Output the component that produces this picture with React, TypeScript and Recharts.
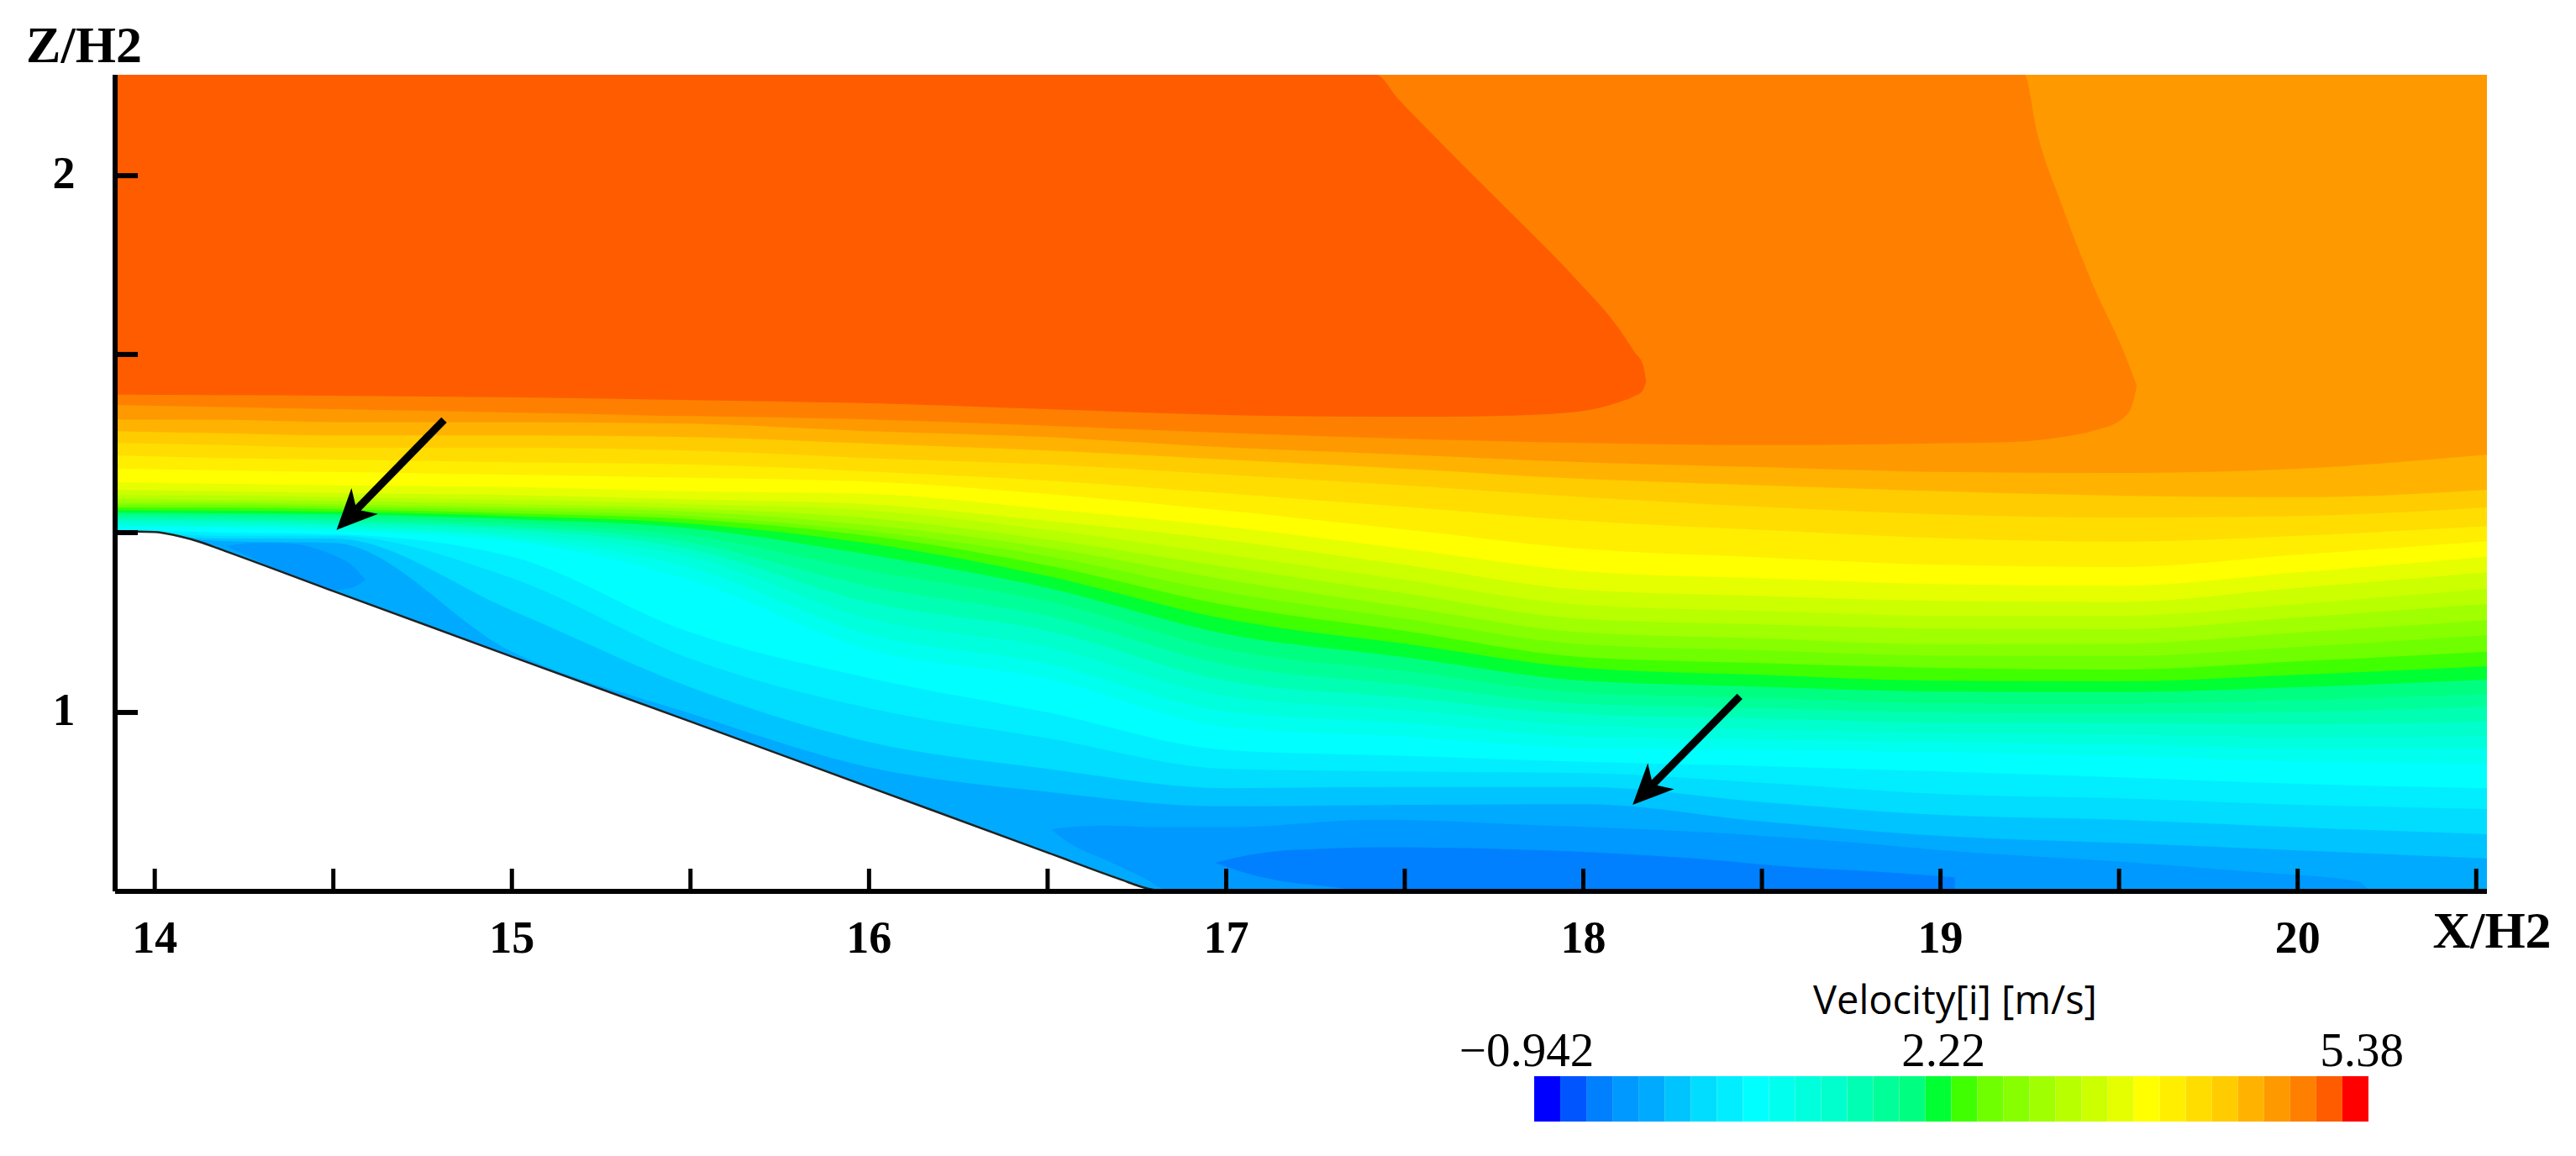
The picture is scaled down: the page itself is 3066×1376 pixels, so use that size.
import { Area, Bar, BarChart, Cell, ComposedChart, Line, ReferenceLine, XAxis, YAxis } from 'recharts'

// colour scale, lowest band first
const BAND_COLORS = [
  '#0000ff', '#0055ff', '#0080ff', '#0099ff', '#00aaff', '#00c4ff', '#00ddff', '#00eeff',
  '#00ffff', '#00ffee', '#00ffdd', '#00ffcc', '#00ffb3', '#00ff99', '#00ff80', '#00ff33',
  '#40ff00', '#70ff00', '#88ff00', '#a0ff00', '#b8ff00', '#ccff00', '#e6ff00', '#ffff00',
  '#ffee00', '#ffdd00', '#ffcc00', '#ffb300', '#ff9900', '#ff8000', '#ff5c00', '#ff0000',
]

const X_MIN = 13.889
const X_MAX = 20.53
const Z_MIN = 0.6667
const Z_MAX = 2.188

const X_TICKS = [14, 14.5, 15, 15.5, 16, 16.5, 17, 17.5, 18, 18.5, 19, 19.5, 20, 20.5]
const Z_TICKS = [2, 1.667, 1.335, 1]

const STATIONS = [13.889, 14.2, 14.5, 15, 15.5, 16, 16.5, 17, 17.5, 18, 18.5, 19, 19.5, 20, 20.53]

// lower edge (Z/H2) of each velocity band at the stations above
const LEVELS: Record<number, number[]> = {
  5: [1.337, 1.319, 1.316, 1.113, 0.998, 0.898, 0.852, 0.825, 0.828, 0.829, 0.797, 0.77, 0.757, 0.743, 0.728],
  6: [1.338, 1.324, 1.324, 1.19, 1.047, 0.945, 0.895, 0.859, 0.861, 0.861, 0.833, 0.809, 0.8, 0.786, 0.773],
  7: [1.34, 1.329, 1.329, 1.25, 1.1, 1.008, 0.952, 0.895, 0.89, 0.887, 0.869, 0.848, 0.84, 0.828, 0.82],
  8: [1.341, 1.335, 1.332, 1.29, 1.149, 1.064, 1.0, 0.93, 0.919, 0.908, 0.9, 0.89, 0.879, 0.867, 0.859],
  9: [1.344, 1.343, 1.338, 1.318, 1.247, 1.117, 1.063, 0.973, 0.955, 0.934, 0.931, 0.926, 0.919, 0.909, 0.904],
  10: [1.349, 1.347, 1.343, 1.325, 1.27, 1.146, 1.091, 1.002, 0.981, 0.955, 0.95, 0.945, 0.941, 0.933, 0.933],
  11: [1.354, 1.352, 1.347, 1.332, 1.29, 1.175, 1.122, 1.031, 1.005, 0.976, 0.969, 0.962, 0.959, 0.954, 0.956],
  12: [1.358, 1.357, 1.352, 1.341, 1.304, 1.205, 1.152, 1.059, 1.028, 0.997, 0.989, 0.981, 0.98, 0.978, 0.983],
  13: [1.363, 1.362, 1.357, 1.346, 1.316, 1.235, 1.18, 1.089, 1.052, 1.016, 1.008, 1.0, 0.998, 1.001, 1.011],
  14: [1.368, 1.366, 1.363, 1.352, 1.329, 1.264, 1.207, 1.117, 1.077, 1.036, 1.027, 1.017, 1.016, 1.023, 1.034],
  15: [1.372, 1.371, 1.369, 1.36, 1.343, 1.294, 1.232, 1.146, 1.103, 1.059, 1.048, 1.039, 1.038, 1.047, 1.061],
  16: [1.377, 1.376, 1.374, 1.366, 1.352, 1.315, 1.254, 1.174, 1.128, 1.083, 1.07, 1.059, 1.058, 1.07, 1.086],
  17: [1.382, 1.382, 1.379, 1.371, 1.36, 1.329, 1.274, 1.2, 1.152, 1.103, 1.092, 1.083, 1.08, 1.095, 1.113],
  18: [1.387, 1.387, 1.384, 1.377, 1.366, 1.338, 1.291, 1.224, 1.175, 1.127, 1.116, 1.106, 1.105, 1.122, 1.144],
  19: [1.391, 1.391, 1.388, 1.382, 1.374, 1.349, 1.307, 1.247, 1.197, 1.149, 1.138, 1.127, 1.128, 1.149, 1.172],
  20: [1.398, 1.396, 1.394, 1.388, 1.38, 1.362, 1.322, 1.271, 1.222, 1.174, 1.164, 1.156, 1.155, 1.177, 1.202],
  21: [1.405, 1.404, 1.401, 1.396, 1.388, 1.376, 1.34, 1.294, 1.247, 1.2, 1.189, 1.18, 1.18, 1.202, 1.23],
  22: [1.415, 1.412, 1.409, 1.405, 1.397, 1.388, 1.357, 1.321, 1.275, 1.228, 1.217, 1.208, 1.206, 1.232, 1.261],
  23: [1.429, 1.426, 1.423, 1.42, 1.412, 1.407, 1.379, 1.346, 1.305, 1.263, 1.25, 1.239, 1.236, 1.261, 1.29],
  24: [1.454, 1.451, 1.448, 1.443, 1.437, 1.43, 1.407, 1.376, 1.341, 1.305, 1.289, 1.275, 1.271, 1.294, 1.319],
  25: [1.479, 1.474, 1.471, 1.466, 1.462, 1.449, 1.432, 1.408, 1.383, 1.357, 1.34, 1.325, 1.318, 1.329, 1.347],
  26: [1.502, 1.498, 1.493, 1.493, 1.488, 1.474, 1.462, 1.443, 1.423, 1.401, 1.383, 1.369, 1.363, 1.366, 1.382],
  27: [1.524, 1.52, 1.516, 1.516, 1.513, 1.501, 1.488, 1.471, 1.454, 1.435, 1.423, 1.412, 1.404, 1.401, 1.415],
  28: [1.546, 1.545, 1.541, 1.541, 1.538, 1.524, 1.513, 1.494, 1.48, 1.466, 1.457, 1.448, 1.446, 1.454, 1.48],
}

// closed bands: x stations with their lower and upper edges
const BAND29_X = [13.889, 14.5, 15, 15.5, 16, 16.5, 17, 17.5, 18, 18.5, 18.95, 19.235, 19.27, 19.34, 19.43, 19.515, 19.535, 19.55]
const BAND29_LO = [1.573, 1.565, 1.559, 1.552, 1.546, 1.534, 1.521, 1.51, 1.502, 1.498, 1.501, 1.505, 1.507, 1.513, 1.525, 1.55, 1.57, 1.608]
const BAND29_HI = [2.188, 2.188, 2.188, 2.188, 2.188, 2.188, 2.188, 2.188, 2.188, 2.188, 2.188, 2.188, 2.082, 1.945, 1.792, 1.669, 1.635, 1.608]

const BAND30_X = [13.889, 14.5, 15, 15.5, 16, 16.5, 17, 17.42, 17.48, 17.615, 17.8, 17.98, 18.1, 18.145, 18.167, 18.176]
const BAND30_LO = [1.592, 1.59, 1.587, 1.582, 1.576, 1.565, 1.554, 1.551, 1.551, 1.551, 1.553, 1.56, 1.578, 1.59, 1.6, 1.617]
const BAND30_HI = [2.188, 2.188, 2.188, 2.188, 2.188, 2.188, 2.188, 2.188, 2.144, 2.052, 1.929, 1.807, 1.715, 1.67, 1.648, 1.617]

const POCKET_A_X = [14.2, 14.28, 14.35, 14.5, 14.55, 14.59]
const POCKET_A_LO = [1.31, 1.285, 1.264, 1.228, 1.232, 1.247]
const POCKET_A_HI = [1.31, 1.316, 1.316, 1.293, 1.275, 1.247]

const POCKET_B_X = [16.51, 16.56, 16.67, 16.76, 16.85, 17, 17.42, 17.9, 18.31, 18.67, 19.07, 19.55, 19.87, 20.17, 20.2]
const POCKET_B_LO = [0.782, 0.757, 0.723, 0.695, 0.667, 0.667, 0.667, 0.667, 0.667, 0.667, 0.667, 0.667, 0.667, 0.667, 0.667]
const POCKET_B_HI = [0.782, 0.786, 0.789, 0.787, 0.786, 0.786, 0.8, 0.789, 0.778, 0.762, 0.74, 0.72, 0.703, 0.685, 0.667]

const POCKET_C_X = [16.97, 17.06, 17.12, 17.27, 17.42, 17.9, 18.31, 18.59, 18.83, 19.04]
const POCKET_C_LO = [0.72, 0.7, 0.69, 0.677, 0.667, 0.667, 0.667, 0.667, 0.667, 0.667]
const POCKET_C_HI = [0.72, 0.734, 0.74, 0.746, 0.749, 0.743, 0.728, 0.712, 0.703, 0.693]

// the sloping wall
const WALL_X = [13.889, 13.95, 14, 14.05, 14.12, 14.2, 14.5, 15, 15.5, 16, 16.5, 16.7, 16.78, 16.85, 20.53]
const WALL_Z = [1.337, 1.337, 1.336, 1.331, 1.319, 1.3, 1.226, 1.104, 0.983, 0.861, 0.739, 0.69, 0.672, 0.6667, 0.6667]

const ARROWS = [
  { tail: [14.81, 1.545], tip: [14.509, 1.34] },
  { tail: [18.438, 1.03], tip: [18.138, 0.828] },
]

const LEGEND_TITLE = 'Velocity[i] [m/s]'
const LEGEND_LABELS = ['\u22120.942', '2.22', '5.38']

const SERIF = '"Liberation Serif", serif'

const mainRows = STATIONS.map((x, i) => {
  const row: Record<string, any> = { x, base: [Z_MIN, Z_MAX] }
  Object.keys(LEVELS).forEach((k) => {
    row[`band${k}`] = [LEVELS[Number(k)][i], Z_MAX]
  })
  return row
})

const rangeRows = (xs: number[], lo: number[], hi: number[]) =>
  xs.map((x, i) => ({ x, range: [lo[i], hi[i]] }))

const wallRows = WALL_X.map((x, i) => ({ x, z: WALL_Z[i], fillRange: [Z_MIN, WALL_Z[i]] }))
const legendRows = BAND_COLORS.map((color, i) => ({ band: i, value: 1, color }))

const closedBands = [
  { id: 'b29', color: BAND_COLORS[29], rows: rangeRows(BAND29_X, BAND29_LO, BAND29_HI) },
  { id: 'b30', color: BAND_COLORS[30], rows: rangeRows(BAND30_X, BAND30_LO, BAND30_HI) },
  { id: 'pa', color: BAND_COLORS[3], rows: rangeRows(POCKET_A_X, POCKET_A_LO, POCKET_A_HI) },
  { id: 'pb', color: BAND_COLORS[3], rows: rangeRows(POCKET_B_X, POCKET_B_LO, POCKET_B_HI) },
  { id: 'pc', color: BAND_COLORS[2], rows: rangeRows(POCKET_C_X, POCKET_C_LO, POCKET_C_HI) },
]

function XTick({ x, y, payload }: any) {
  const isMajor = Number.isInteger(payload.value)
  return (
    <g>
      <line x1={x} x2={x} y1={y} y2={y - 27} stroke="#000" strokeWidth={5} />
      {isMajor && (
        <text x={x} y={y + 73} textAnchor="middle" fontFamily={SERIF} fontWeight={700} fontSize={54} fill="#000">
          {payload.value}
        </text>
      )}
    </g>
  )
}

function YTick({ x, y, payload }: any) {
  const isMajor = Number.isInteger(payload.value)
  return (
    <g>
      <line x1={x} x2={x + 27} y1={y} y2={y} stroke="#000" strokeWidth={6} />
      {isMajor && (
        <text x={x - 61} y={y + 15} textAnchor="middle" fontFamily={SERIF} fontWeight={700} fontSize={54} fill="#000">
          {payload.value}
        </text>
      )}
    </g>
  )
}

function ArrowShape({ x1, y1, x2, y2 }: any) {
  const len = Math.hypot(x2 - x1, y2 - y1)
  const ux = (x2 - x1) / len
  const uy = (y2 - y1) / len
  const at = (along: number, side: number) => `${x2 - ux * along - uy * side},${y2 - uy * along + ux * side}`
  return (
    <g>
      <line x1={x1} y1={y1} x2={x2 - ux * 34} y2={y2 - uy * 34} stroke="#000" strokeWidth={9} />
      <polygon points={`${at(0, 0)} ${at(48, 22)} ${at(34, 0)} ${at(48, -22)}`} fill="#000" />
    </g>
  )
}

function Caption({ left, top, children, style }: any) {
  return (
    <div
      style={{
        position: 'absolute',
        left,
        top,
        transform: 'translate(-50%, -50%)',
        lineHeight: 1,
        whiteSpace: 'nowrap',
        color: '#000',
        ...style,
      }}
    >
      {children}
    </div>
  )
}

export default function App() {
  return (
    <div style={{ position: 'absolute', left: 0, top: 0, width: 3066, height: 1376, background: '#fff', overflow: 'hidden' }}>
      <ComposedChart
        width={3066}
        height={1376}
        data={mainRows}
        margin={{ top: 89, right: 106, bottom: 215, left: 0 }}
      >
        <Area dataKey="base" type="monotoneX" fill={BAND_COLORS[4]} fillOpacity={1} stroke="none" isAnimationActive={false} />
        {Object.keys(LEVELS).map((k) => (
          <Area
            key={k}
            dataKey={`band${k}`}
            type="monotoneX"
            fill={BAND_COLORS[Number(k)]}
            fillOpacity={1}
            stroke="none"
            isAnimationActive={false}
          />
        ))}
        {closedBands.map((b) => (
          <Area
            key={b.id}
            data={b.rows}
            dataKey="range"
            type="monotoneX"
            fill={b.color}
            fillOpacity={1}
            stroke="none"
            isAnimationActive={false}
          />
        ))}
        <Area data={wallRows} dataKey="fillRange" type="monotoneX" fill="#ffffff" fillOpacity={1} stroke="none" isAnimationActive={false} />
        <Line data={wallRows} dataKey="z" type="monotoneX" stroke="#222" strokeWidth={2.5} dot={false} isAnimationActive={false} />
        {ARROWS.map((a, i) => (
          <ReferenceLine
            key={i}
            segment={[
              { x: a.tail[0], y: a.tail[1] },
              { x: a.tip[0], y: a.tip[1] },
            ]}
            ifOverflow="visible"
            shape={ArrowShape}
          />
        ))}
        <XAxis
          dataKey="x"
          type="number"
          domain={[X_MIN, X_MAX]}
          allowDataOverflow
          ticks={X_TICKS}
          interval={0}
          height={100}
          tickSize={0}
          tickMargin={0}
          tick={XTick}
          tickLine={false}
          axisLine={{ stroke: '#000', strokeWidth: 6 }}
        />
        <YAxis
          type="number"
          domain={[Z_MIN, Z_MAX]}
          allowDataOverflow
          ticks={Z_TICKS}
          interval={0}
          width={137}
          tickSize={0}
          tickMargin={0}
          tick={YTick}
          tickLine={false}
          axisLine={{ stroke: '#000', strokeWidth: 6 }}
        />
      </ComposedChart>

      <Caption left={100} top={53} style={{ fontFamily: SERIF, fontWeight: 700, fontSize: 62 }}>Z/H2</Caption>
      <Caption left={2966} top={1107} style={{ fontFamily: SERIF, fontWeight: 700, fontSize: 62 }}>X/H2</Caption>

      <Caption left={2327} top={1189} style={{ fontFamily: '"Open Sans", sans-serif', fontSize: 47 }}>{LEGEND_TITLE}</Caption>
      <Caption left={1817} top={1249} style={{ fontFamily: SERIF, fontSize: 57 }}>{LEGEND_LABELS[0]}</Caption>
      <Caption left={2313} top={1249} style={{ fontFamily: SERIF, fontSize: 57 }}>{LEGEND_LABELS[1]}</Caption>
      <Caption left={2811} top={1249} style={{ fontFamily: SERIF, fontSize: 57 }}>{LEGEND_LABELS[2]}</Caption>

      <div style={{ position: 'absolute', left: 1826, top: 1281 }}>
        <BarChart
          width={993}
          height={54}
          data={legendRows}
          margin={{ top: 0, right: 0, bottom: 0, left: 0 }}
          barCategoryGap={0}
        >
          <XAxis dataKey="band" hide />
          <YAxis domain={[0, 1]} hide />
          <Bar dataKey="value" isAnimationActive={false}>
            {legendRows.map((r) => (
              <Cell key={r.band} fill={r.color} />
            ))}
          </Bar>
        </BarChart>
      </div>
    </div>
  )
}
